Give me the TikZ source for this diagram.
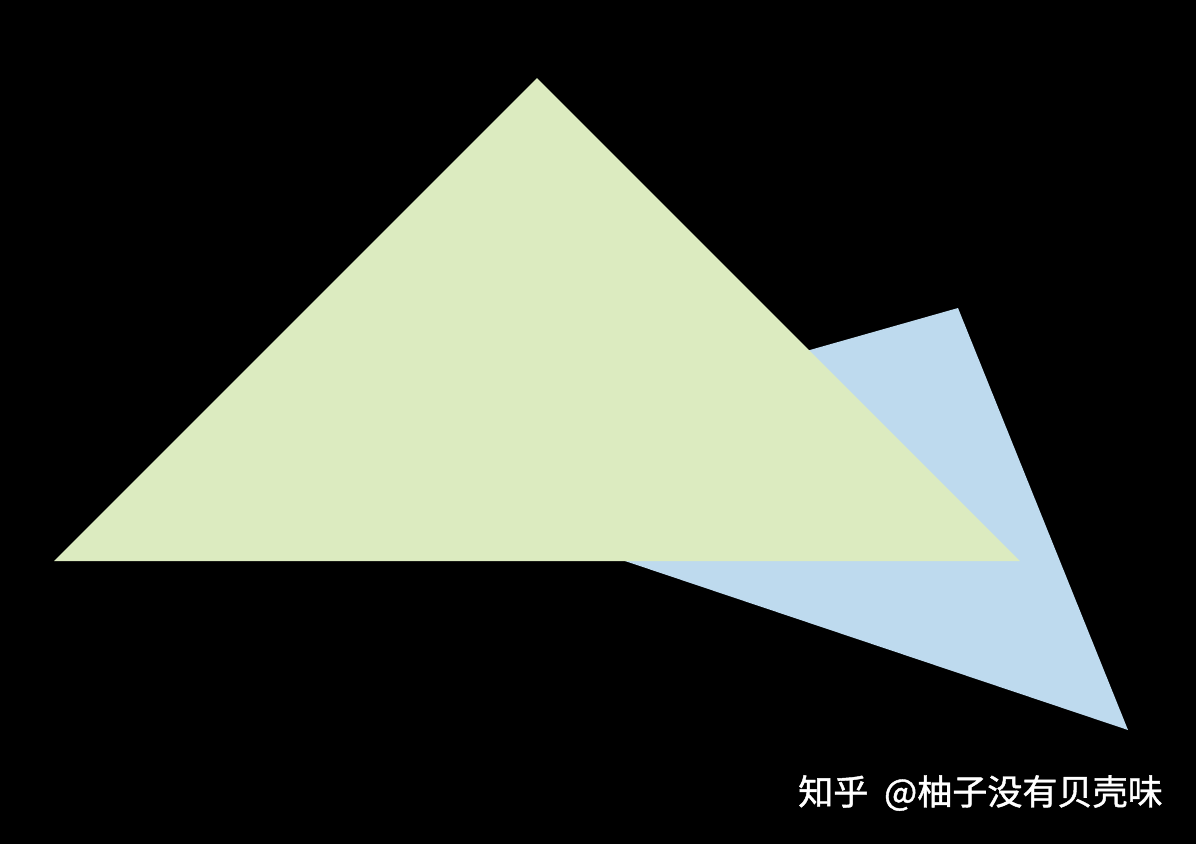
\documentclass[tikz,border=0pt]{standalone}
\usepackage{fontspec}
\newfontfamily\cjk[FakeBold=1.2]{Noto Sans CJK SC}
\usepackage{tikz}
\definecolor{trigreen}{RGB}{220,235,192}
\definecolor{triblue}{RGB}{190,218,238}

\begin{document}
\begin{tikzpicture}[x=0.75pt, y=-0.75pt]
  \fill[black] (0,0) rectangle (1196,844);
  \useasboundingbox (0,0) rectangle (1196,844);
  \coordinate (b-1) at (369,475);
  \coordinate (b-2) at (958,308);
  \coordinate (b-3) at (1128,730);
  \coordinate (g-1) at (54,561);
  \coordinate (g-2) at (537,78);
  \coordinate (g-3) at (1020,561);
  \fill[triblue] (b-1) -- (b-2) -- (b-3) -- cycle;
  \fill[trigreen] (g-1) -- (g-2) -- (g-3) -- cycle;
  \node (mark) [text=white, inner sep=0pt, font=\cjk\fontsize{26.3pt}{29pt}\selectfont] at (980.5,793) {知乎\hspace{0.45em}@柚子没有贝壳味};
\end{tikzpicture}
\end{document}
